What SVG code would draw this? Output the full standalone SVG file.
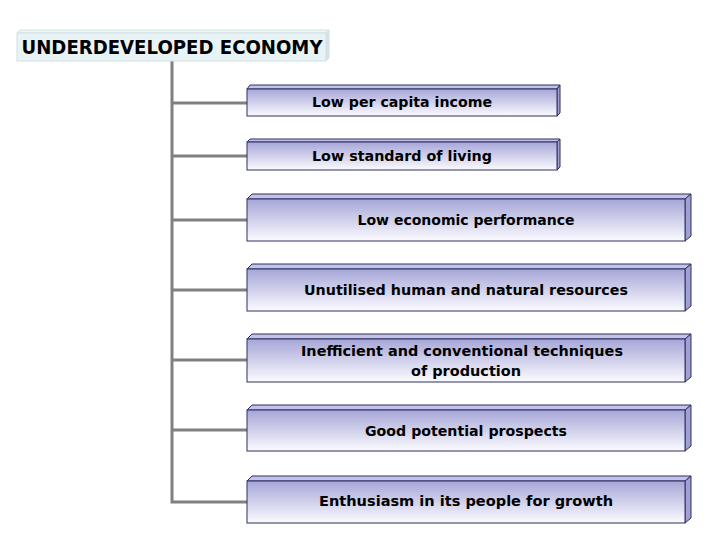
<svg xmlns="http://www.w3.org/2000/svg" width="720" height="540" viewBox="0 0 720 540">
<defs>
<linearGradient id="g" x1="0" y1="0" x2="0" y2="1">
<stop offset="0" stop-color="#a6a6d8"/>
<stop offset="1" stop-color="#fbfbff"/>
</linearGradient>
<style>
.face{fill:url(#g);stroke:#2e2e60;stroke-width:1}
.top{fill:#c2c2ea;stroke:#2e2e60;stroke-width:1}
.side{fill:#a0a0d2;stroke:#2e2e60;stroke-width:1}
.lbl{font-family:"DejaVu Sans",sans-serif;font-weight:bold;font-size:14px;fill:#000;text-anchor:middle}
.conn{stroke:#808080;stroke-width:3;fill:none}
</style>
</defs>
<rect width="720" height="540" fill="#fff"/>
<g id="connectors">
<path class="conn" d="M172 61 V502 H247"/>
<path class="conn" d="M172 103 H247 M172 156 H247 M172 220 H247 M172 290 H247 M172 360 H247 M172 430 H247"/>
</g>
<g id="title">
<polygon points="17,33 20,30 329,30 326,33" fill="#eef6f8" stroke="#d4e0e4" stroke-width="1"/>
<polygon points="326,33 329,30 329,58 326,61" fill="#d6e2e6" stroke="#d4e0e4" stroke-width="1"/>
<rect x="17" y="33" width="309" height="28" fill="#e8f3f6" stroke="#d4e0e4" stroke-width="1"/>
<text x="172" y="54" font-family="DejaVu Sans,sans-serif" font-weight="bold" font-size="19" text-anchor="middle" textLength="301" lengthAdjust="spacingAndGlyphs">UNDERDEVELOPED ECONOMY</text>
</g>
<g id="n1">
<polygon class="top" points="247,89 250,85 560,85 557,89"/>
<polygon class="side" points="557,89 560,85 560,113 557,116"/>
<rect class="face" x="247" y="89" width="310" height="27"/>
<text class="lbl" x="402" y="107" textLength="180" lengthAdjust="spacingAndGlyphs">Low per capita income</text>
</g>
<g id="n2">
<polygon class="top" points="247,142 250,139 560,139 557,142"/>
<polygon class="side" points="557,142 560,139 560,167 557,170"/>
<rect class="face" x="247" y="142" width="310" height="28"/>
<text class="lbl" x="402" y="161" textLength="180" lengthAdjust="spacingAndGlyphs">Low standard of living</text>
</g>
<g id="n3">
<polygon class="top" points="247,199 252,194 691,194 685,199"/>
<polygon class="side" points="685,199 691,194 691,236 685,241"/>
<rect class="face" x="247" y="199" width="438" height="42"/>
<text class="lbl" x="466" y="225" textLength="217" lengthAdjust="spacingAndGlyphs">Low economic performance</text>
</g>
<g id="n4">
<polygon class="top" points="247,269 252,264 691,264 685,269"/>
<polygon class="side" points="685,269 691,264 691,306 685,311"/>
<rect class="face" x="247" y="269" width="438" height="42"/>
<text class="lbl" x="466" y="295" textLength="324" lengthAdjust="spacingAndGlyphs">Unutilised human and natural resources</text>
</g>
<g id="n5">
<polygon class="top" points="247,339 252,334 691,334 685,339"/>
<polygon class="side" points="685,339 691,334 691,377 685,382"/>
<rect class="face" x="247" y="339" width="438" height="43"/>
<text class="lbl" x="462" y="356" textLength="322" lengthAdjust="spacingAndGlyphs">Inefficient and conventional techniques</text>
<text class="lbl" x="466" y="376" textLength="110" lengthAdjust="spacingAndGlyphs">of production</text>
</g>
<g id="n6">
<polygon class="top" points="247,410 252,405 691,405 685,410"/>
<polygon class="side" points="685,410 691,405 691,446 685,451"/>
<rect class="face" x="247" y="410" width="438" height="41"/>
<text class="lbl" x="466" y="436" textLength="202" lengthAdjust="spacingAndGlyphs">Good potential prospects</text>
</g>
<g id="n7">
<polygon class="top" points="247,481 252,476 691,476 685,481"/>
<polygon class="side" points="685,481 691,476 691,518 685,523"/>
<rect class="face" x="247" y="481" width="438" height="42"/>
<text class="lbl" x="466" y="506" textLength="294" lengthAdjust="spacingAndGlyphs">Enthusiasm in its people for growth</text>
</g>
</svg>
